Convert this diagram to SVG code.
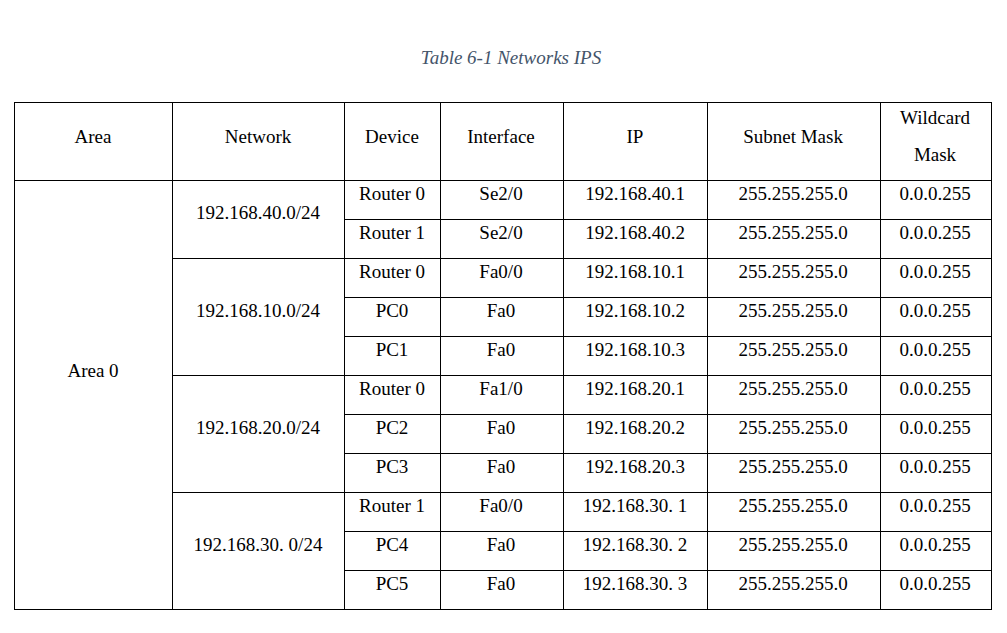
<svg xmlns="http://www.w3.org/2000/svg" width="1007" height="633" viewBox="0 0 1007 633">
<style>
text{font-family:"Liberation Serif",serif;font-size:19px;fill:#000;text-anchor:middle}
.t{font-style:italic;fill:#44546A}
line{stroke:#000;stroke-width:1}
</style>
<rect width="1007" height="633" fill="#fff"/>
<text class="t" x="511" y="64">Table 6-1 Networks IPS</text>
<g id="grid">
<rect x="14.5" y="102.5" width="977" height="507" fill="none" stroke="#000"/>
<line x1="172.5" y1="102" x2="172.5" y2="609"/>
<line x1="344.5" y1="102" x2="344.5" y2="609"/>
<line x1="440.5" y1="102" x2="440.5" y2="609"/>
<line x1="563.5" y1="102" x2="563.5" y2="609"/>
<line x1="707.5" y1="102" x2="707.5" y2="609"/>
<line x1="880.5" y1="102" x2="880.5" y2="609"/>
<line x1="14" y1="180.5" x2="992" y2="180.5"/>
<line x1="344" y1="219.5" x2="992" y2="219.5"/>
<line x1="172" y1="258.5" x2="992" y2="258.5"/>
<line x1="344" y1="297.5" x2="992" y2="297.5"/>
<line x1="344" y1="336.5" x2="992" y2="336.5"/>
<line x1="172" y1="375.5" x2="992" y2="375.5"/>
<line x1="344" y1="414.5" x2="992" y2="414.5"/>
<line x1="344" y1="453.5" x2="992" y2="453.5"/>
<line x1="172" y1="492.5" x2="992" y2="492.5"/>
<line x1="344" y1="531.5" x2="992" y2="531.5"/>
<line x1="344" y1="570.5" x2="992" y2="570.5"/>
</g>
<g id="header">
<text x="93" y="143">Area</text><text x="258" y="143">Network</text><text x="392" y="143">Device</text><text x="501" y="143">Interface</text><text x="635" y="143">IP</text><text x="793" y="143">Subnet Mask</text><text x="935" y="124">Wildcard</text><text x="935" y="161">Mask</text>
</g>
<g id="body">
<text x="93" y="377">Area 0</text>
<text x="258" y="219">192.168.40.0/24</text>
<text x="258" y="317">192.168.10.0/24</text>
<text x="258" y="434">192.168.20.0/24</text>
<text x="258" y="551">192.168.30. 0/24</text>
<g id="r1"><text x="392" y="200">Router 0</text><text x="501" y="200">Se2/0</text><text x="635" y="200">192.168.40.1</text><text x="793" y="200">255.255.255.0</text><text x="935" y="200">0.0.0.255</text></g>
<g id="r2"><text x="392" y="239">Router 1</text><text x="501" y="239">Se2/0</text><text x="635" y="239">192.168.40.2</text><text x="793" y="239">255.255.255.0</text><text x="935" y="239">0.0.0.255</text></g>
<g id="r3"><text x="392" y="278">Router 0</text><text x="501" y="278">Fa0/0</text><text x="635" y="278">192.168.10.1</text><text x="793" y="278">255.255.255.0</text><text x="935" y="278">0.0.0.255</text></g>
<g id="r4"><text x="392" y="317">PC0</text><text x="501" y="317">Fa0</text><text x="635" y="317">192.168.10.2</text><text x="793" y="317">255.255.255.0</text><text x="935" y="317">0.0.0.255</text></g>
<g id="r5"><text x="392" y="356">PC1</text><text x="501" y="356">Fa0</text><text x="635" y="356">192.168.10.3</text><text x="793" y="356">255.255.255.0</text><text x="935" y="356">0.0.0.255</text></g>
<g id="r6"><text x="392" y="395">Router 0</text><text x="501" y="395">Fa1/0</text><text x="635" y="395">192.168.20.1</text><text x="793" y="395">255.255.255.0</text><text x="935" y="395">0.0.0.255</text></g>
<g id="r7"><text x="392" y="434">PC2</text><text x="501" y="434">Fa0</text><text x="635" y="434">192.168.20.2</text><text x="793" y="434">255.255.255.0</text><text x="935" y="434">0.0.0.255</text></g>
<g id="r8"><text x="392" y="473">PC3</text><text x="501" y="473">Fa0</text><text x="635" y="473">192.168.20.3</text><text x="793" y="473">255.255.255.0</text><text x="935" y="473">0.0.0.255</text></g>
<g id="r9"><text x="392" y="512">Router 1</text><text x="501" y="512">Fa0/0</text><text x="635" y="512">192.168.30. 1</text><text x="793" y="512">255.255.255.0</text><text x="935" y="512">0.0.0.255</text></g>
<g id="r10"><text x="392" y="551">PC4</text><text x="501" y="551">Fa0</text><text x="635" y="551">192.168.30. 2</text><text x="793" y="551">255.255.255.0</text><text x="935" y="551">0.0.0.255</text></g>
<g id="r11"><text x="392" y="590">PC5</text><text x="501" y="590">Fa0</text><text x="635" y="590">192.168.30. 3</text><text x="793" y="590">255.255.255.0</text><text x="935" y="590">0.0.0.255</text></g>
</g>
</svg>
